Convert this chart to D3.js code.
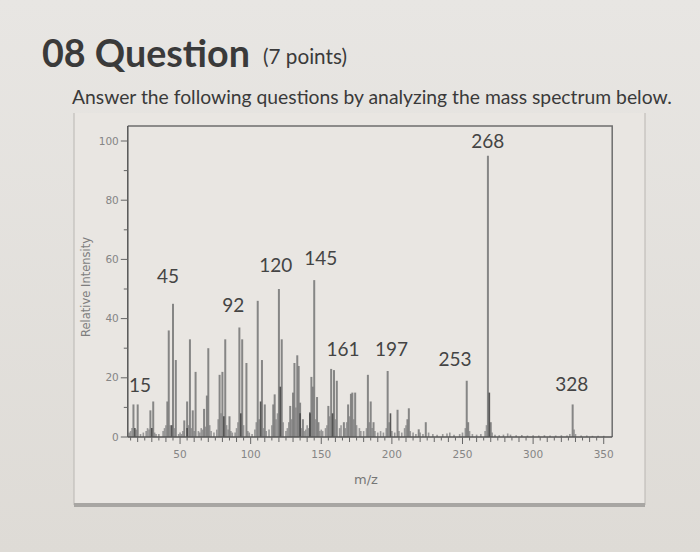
<!DOCTYPE html>
<html><head><meta charset="utf-8">
<script src="https://cdn.jsdelivr.net/npm/d3@7"></script>
<style>html,body{margin:0;padding:0;background:#e4e1dc;}svg{display:block;}</style>
</head><body>
<svg id="c" width="700" height="552"></svg>
<script>
// ---- data ----
const peakMz  = [17,20,29,31,41,42,45,47,53,55,57,59,61,67,69,70,78,80,82,85,92,94,97,105,108,110,116,117,120,122,128,130,131,133,134,135,137,142,143,144,145,147,148,155,157,159,161,166,169,171,172,174,183,185,187,197,204,211,212,219,224,253,254,268,270,328];
const peakInt = [11,11,9,12,12,36,45,26,5.6,12,33,9,22,9.5,14,30,21,22,33,7,37,33,25,46,26,11,11,14.4,50,33,10.5,15,25,27.6,24,11.6,6,8.4,20.3,17,53,13.5,5,10.5,23,22.6,19,5,11,14.6,15,15,21,12,5,22.3,9.2,6,9.7,2.6,5,19,5,95,5,11];
const darkMz  = [18,30,44,55,81,93,107,121,135,142,158,199,269];
const darkInt = [3,3,4,3,7,8,12,17,8,8,8,8,15];
const noiseMz  = [14,15,16,19,22,24,26,27,28,32,33,35,38,39,40,43,46,49,50,51,52,56,58,60,63,64,65,66,68,71,72,74,76,77,79,83,84,86,87,89,90,91,95,98,99,101,103,104,106,109,111,113,115,118,119,123,125,126,127,129,132,136,138,139,140,141,146,149,150,151,153,154,156,160,163,164,167,168,170,173,175,177,178,180,182,184,186,188,190,192,194,196,198,200,202,205,207,209,210,213,215,217,220,222,226,229,232,236,239,241,244,248,250,252,255,257,260,263,266,267,271,273,276,279,282,284,288,292,296,300,304,308,312,316,320,324,326,329,330,334,338,342,346,350];
const noiseInt = [1.5,2,3,2.5,1,1.5,2,3,2.5,1.5,1,1,2,3,4,4,3,1,1.5,1,2,4,3,2,2,1.5,3,2.5,3.5,4,2,1.5,2.5,6,8,4,2.5,2,1.5,1.5,3,5,4,2,1.5,1,2.5,5,6,3,2,2.5,4,6,8,5,2,3,5,6,10,3,2,2.5,4,3,6,2,2.5,2,3,4,7,6,3,4,3,5,7,6,4,3,2,2,3,5,3,2,1.5,2,1.5,3,5,2,1.5,2,1.5,3,4,2,1.5,1,1.5,1,1.5,1,0.8,1,1.2,1.5,0.8,1,1.5,3,2,1,0.8,1,2,4,1.5,0.8,0.6,0.8,1.2,0.8,0.6,0.7,0.5,0.6,0.5,0.6,0.5,0.5,0.6,0.5,1,2.5,1,0.5,0.5,0.4,0.4,0.4];
const labelText = ["268","45","120","145","92","161","197","253","328","15"];
const labelMz   = [267.9,41.5,117.8,149.6,87.6,165.4,199.8,244.7,327.3,21.6];
const labelInt  = [97.6,52,55.7,58.1,42.3,27.4,27.4,24,15.6,15.3];
const xTicks = [50,100,150,200,250,300,350];
const yTicks = [0,20,40,60,80,100];

// ---- drawing ----
const svg = d3.select("#c");
const defs = svg.append("defs");
const g0 = defs.append("linearGradient").attr("id","bg").attr("x1",0).attr("y1",0).attr("x2",0).attr("y2",1);
g0.append("stop").attr("offset","0%").attr("stop-color","#e8e6e3");
g0.append("stop").attr("offset","100%").attr("stop-color","#dedbd6");
svg.append("rect").attr("width",700).attr("height",552).attr("fill","url(#bg)");

function fit(sel, w){ const l = sel.node().getComputedTextLength(); sel.attr("font-size", parseFloat(sel.attr("font-size"))*w/l); }

fit(svg.append("text").attr("x",42).attr("y",67).attr("font-family","Lato").attr("font-weight",700)
  .attr("font-size",38).attr("fill","#3a3a3a").text("08 Question"), 208);
fit(svg.append("text").attr("x",263).attr("y",64).attr("font-family","Lato")
  .attr("font-size",18).attr("fill","#3a3a3a").text("(7 points)"), 84);
fit(svg.append("text").attr("x",72).attr("y",104).attr("font-family","Lato")
  .attr("font-size",20).attr("fill","#3a3a3a").text("Answer the following questions by analyzing the mass spectrum below."), 600);

// outer image box
svg.append("rect").attr("x",74).attr("y",113).attr("width",571).attr("height",392).attr("fill","#e9e6e2");
svg.append("line").attr("x1",74).attr("x2",74).attr("y1",113).attr("y2",505).attr("stroke","#b9b6b2").attr("stroke-width",1);
svg.append("line").attr("x1",645).attr("x2",645).attr("y1",113).attr("y2",505).attr("stroke","#b9b6b2").attr("stroke-width",1);
svg.append("line").attr("x1",74).attr("x2",645).attr("y1",505).attr("y2",505).attr("stroke","#a8a6a3").attr("stroke-width",4);

const x = d3.scaleLinear().domain([13,356]).range([127.8,612.2]);
const y = d3.scaleLinear().domain([0,100]).range([437,141]);
const yTop = y.invert(126);

// plot frame (top and right)
svg.append("path").attr("d",`M${x(13)},${y(yTop)}H${x(356)}V${y(0)}`).attr("fill","none").attr("stroke","#6e6e6e").attr("stroke-width",1.5);

// bars
function bars(mz, it, col, w, op){
  svg.append("g").selectAll("line").data(mz.map((m,i)=>[m,it[i]])).join("line")
    .attr("x1",d=>x(d[0])).attr("x2",d=>x(d[0])).attr("y1",y(0)).attr("y2",d=>y(d[1]))
    .attr("stroke",col).attr("stroke-width",w).attr("opacity",op);
}
bars(noiseMz, noiseInt, "#8a8a8a", 1.6, 0.85);
bars(peakMz, peakInt, "#7c7c7c", 2, 0.9);
bars(darkMz, darkInt, "#3f3f3f", 1.6, 0.85);

// axes
const xAxis = svg.append("g").attr("transform",`translate(0,${y(0)})`);
xAxis.append("line").attr("x1",x(13)).attr("x2",x(356)).attr("stroke","#555").attr("stroke-width",1.5);
xAxis.selectAll("line.minor").data(d3.range(15,351,5)).join("line").attr("class","minor")
  .attr("x1",d=>x(d)).attr("x2",d=>x(d)).attr("y1",0).attr("y2",d=>d%50===0?7:(d%10===0?5:3.5))
  .attr("stroke","#666").attr("stroke-width",1);
xAxis.selectAll("text").data(xTicks).join("text").attr("x",d=>x(d)).attr("y",21)
  .attr("text-anchor","middle").attr("font-family","DejaVu Sans").attr("font-size",10.5).attr("fill","#858585").text(d=>d);
svg.append("text").attr("x",366).attr("y",484).attr("text-anchor","middle").attr("font-family","DejaVu Sans")
  .attr("font-size",13).attr("fill","#767676").text("m/z");

const yAxis = svg.append("g").attr("transform",`translate(${x(13)},0)`);
yAxis.append("line").attr("y1",y(yTop)).attr("y2",y(0)).attr("stroke","#555").attr("stroke-width",1.5);
yAxis.selectAll("line.t").data(d3.range(0,101,10)).join("line").attr("class","t")
  .attr("x1",d=>d%20===0?-7:-4).attr("x2",0).attr("y1",d=>y(d)).attr("y2",d=>y(d))
  .attr("stroke","#666").attr("stroke-width",1);
yAxis.selectAll("text").data(yTicks).join("text").attr("x",-9).attr("y",d=>y(d)+3.5)
  .attr("text-anchor","end").attr("font-family","DejaVu Sans").attr("font-size",10.5).attr("fill","#858585").text(d=>d);
svg.append("text").attr("transform","translate(90,287) rotate(-90)").attr("text-anchor","middle")
  .attr("font-family","DejaVu Sans").attr("font-size",11.5).attr("fill","#7e7e7e").text("Relative Intensity");

// peak labels
svg.append("g").selectAll("text").data(labelText.map((t,i)=>[t,labelMz[i],labelInt[i]])).join("text")
  .attr("x",d=>x(d[1])).attr("y",d=>y(d[2])).attr("text-anchor","middle")
  .attr("font-family","Lato").attr("font-size",19).attr("fill","#444").text(d=>d[0]);
</script>
</body></html>
